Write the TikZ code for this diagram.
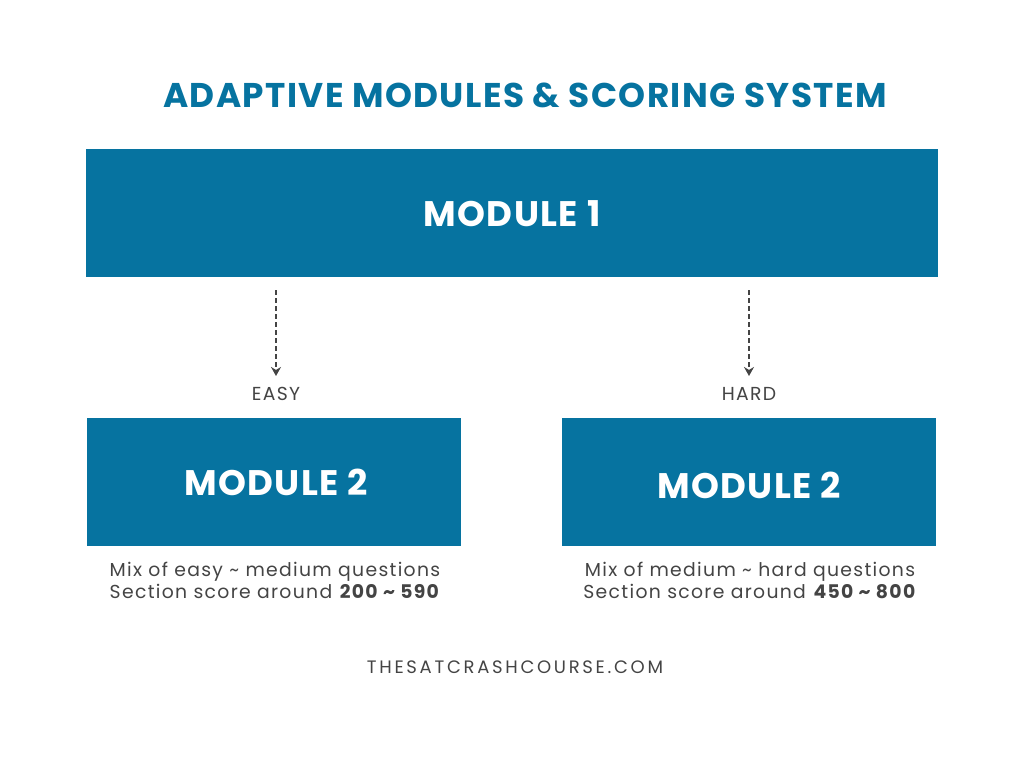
\documentclass[tikz,border=0pt]{standalone}
\usepackage{fontspec}
\setmainfont{Poppins}
\newfontfamily\spaced[LetterSpace=7]{Poppins}
\newfontfamily\wide[LetterSpace=15]{Poppins}
\newfontfamily\tsp[LetterSpace=4]{Poppins}
\usetikzlibrary{arrows.meta}
\definecolor{blu}{HTML}{0673A0}
\definecolor{txt}{HTML}{444444}
\begin{document}
\begin{tikzpicture}[x=1pt,y=-1pt,
  box/.style={fill=blu,draw=none,inner sep=0},
  btxt/.style={text=white,font=\tsp\fontsize{35.5}{38}\selectfont\bfseries},
  small/.style={text=txt,font=\spaced\fontsize{18.8}{22}\selectfont,align=center},
  arr/.style={draw=txt,line width=2.4pt,dash pattern=on 5pt off 3pt,-{Stealth[length=9pt,width=10pt]}}]
\useasboundingbox (0,0) rectangle (1024,768);
\node[text=blu,font=\tsp\fontsize{34.3}{38}\selectfont\bfseries] (title) at (525,95) {ADAPTIVE MODULES \& SCORING SYSTEM};
\path[box] (86,149) rectangle (938,277);
\node[btxt] (m1) at (512,214) {MODULE 1};
\path[box] (87,418) rectangle (461,546);
\node[btxt] (m2a) at (276,482) {MODULE 2};
\path[box] (562,418) rectangle (936,546);
\node[btxt] (m2b) at (749,485) {MODULE 2};
\coordinate (a1) at (276,290); \coordinate (a2) at (276,376);
\coordinate (b1) at (749,290); \coordinate (b2) at (749,376);
\draw[arr] (a1) -- (a2);
\draw[arr] (b1) -- (b2);
\node[small] (easy) at (276,394) {EASY};
\node[small] (hard) at (749,394) {HARD};
\node[small] (da) at (275,580) {Mix of easy \textasciitilde{} medium questions\\Section score around \textbf{200 \textasciitilde{} 590}};
\node[small] (db) at (750,580) {Mix of medium \textasciitilde{} hard questions\\Section score around \textbf{450 \textasciitilde{} 800}};
\node[text=txt,font=\wide\fontsize{18}{22}\selectfont] (url) at (515,667) {THESATCRASHCOURSE.COM};
\end{tikzpicture}
\end{document}
